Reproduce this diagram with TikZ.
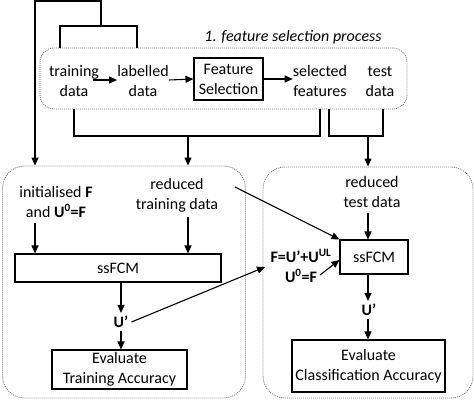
\documentclass[tikz,border=0pt]{standalone}
\usepackage{fontspec}
\setmainfont{Carlito}
\usetikzlibrary{arrows.meta}
\begin{document}
\begin{tikzpicture}[x=1pt,y=-1pt,
  every node/.style={font=\fontsize{16}{20}\selectfont, inner sep=0pt, align=center},
  boxn/.style={draw, line width=1.1pt, inner sep=0pt},
  grp/.style={draw=gray, line width=0.9pt, dash pattern=on 1pt off 1pt, rounded corners=22pt, inner sep=0pt},
  ln/.style={line width=1.1pt},
  arr/.style={line width=1.1pt, -{Triangle[length=8pt,width=7pt]}}]
\useasboundingbox (0,0) rectangle (474,401);
% groups
\node[grp, rounded corners=14pt, minimum width=367pt, minimum height=61pt] (fsp) at (223.5,78.5) {};
\node[grp, minimum width=243pt, minimum height=232pt] (lb) at (124,282) {};
\node[grp, minimum width=210pt, minimum height=231pt] (rb) at (368,282.5) {};
\node[font=\fontsize{16}{20}\selectfont\itshape] (title) at (293,37) {1. feature selection process};
% top row
\node (td) at (74,81.5) {training\\data};
\node (ld) at (143,81.5) {labelled\\data};
\node[boxn, minimum width=69pt, minimum height=42pt] (fs) at (228.5,79) {Feature\\Selection};
\node (sf) at (320,81.5) {selected\\features};
\node (ted) at (380,81.5) {test\\data};
\draw[arr] ([xshift=-6pt,yshift=1.5pt]td.east) -- ([yshift=1.5pt]ld.west);
\draw[arr] ([yshift=1.5pt]ld.east) -- (fs.west |- fs.center);
\draw[arr] (fs.east) -- (sf.west |- fs.center);
% left box
\node (init) at (56,202) {initialised \textbf{F}\\and \textbf{U\textsuperscript{0}=F}};
\node (rtd) at (177,195) {reduced\\training data};
\node[boxn, minimum width=206pt, minimum height=28pt] (ss1) at (118,268) {ssFCM};
\node (u1) at (121,322) {\textbf{U’}};
\node[boxn, minimum width=135pt, minimum height=39pt] (ev1) at (119.5,369.5) {Evaluate\\Training Accuracy};
% right box
\node (rted) at (372,192) {reduced\\test data};
\node[boxn, minimum width=68pt, minimum height=34pt] (ss2) at (374,257) {ssFCM};
\node (flab) at (301,266) {\textbf{F=U’+U\textsuperscript{UL}}\\\textbf{U\textsuperscript{0}=F}};
\node (u2) at (369,310) {\textbf{U’}};
\node[boxn, minimum width=153pt, minimum height=52pt] (ev2) at (368.5,366) {Evaluate\\Classification Accuracy};
% routing coordinates
\coordinate (tl) at (35,1);
\coordinate (b1) at (60,26);
\coordinate (b2) at (137,26);
\coordinate (bm) at (101,26);
\coordinate (c1) at (74,136);
\coordinate (c2) at (320,136);
\coordinate (cm) at (188,136);
\coordinate (d1) at (329,136);
\coordinate (d2) at (383,136);
\coordinate (dm) at (368,136);
\coordinate (rbin) at (265,267);
\coordinate (lbc) at (235,187);
\coordinate (fst) at (320,275);
% connectors
\draw[ln] (b1 |- fsp.north) -- (b1) -- (b2) -- (b2 |- fsp.north);
\draw[arr] (bm) -- (bm |- tl) -- (tl) -- (tl |- lb.north);
\draw[ln] (c1 |- fsp.south) -- (c1) -- (c2) -- (c2 |- fsp.south);
\draw[arr] (cm) -- (cm |- lb.north);
\draw[ln] (d1 |- fsp.south) -- (d1) -- (d2) -- (d2 |- fsp.south);
\draw[arr] (dm) -- (dm |- rb.north);
\draw[arr] (init.south -| tl) ++(0,5) -- (ss1.north -| tl);
\draw[arr] (rtd.south -| cm) ++(0,5) -- (ss1.north -| cm);
\draw[arr] (ss1.south -| u1) -- ([yshift=3pt]u1.north);
\draw[arr] ([yshift=-3pt]u1.south) -- (ev1.north -| u1);
\draw[arr] ([xshift=3pt]u1.east) -- (rbin);
\draw[arr] (lbc) -- (ss2.north west);
\draw[arr] (rted.south -| dm) ++(0,5) -- (ss2.north -| dm);
\draw[arr] (fst) -- ([yshift=-3pt]ss2.west);
\draw[arr] (ss2.south -| dm) -- ([yshift=3pt]u2.north -| dm);
\draw[arr] ([yshift=-3pt]u2.south -| dm) -- (ev2.north -| dm);
\end{tikzpicture}
\end{document}
